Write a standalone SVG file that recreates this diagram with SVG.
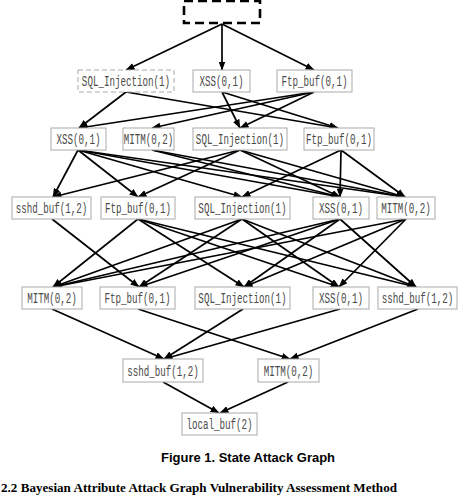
<svg xmlns="http://www.w3.org/2000/svg" width="474" height="498" viewBox="0 0 474 498">
<defs>
<marker id="ah" markerUnits="userSpaceOnUse" markerWidth="9" markerHeight="7" refX="8.5" refY="3.5" orient="auto">
<path d="M0,0 L9,3.5 L0,7 z" fill="#000"/>
</marker>
<style>
.n rect{fill:#fff;stroke:#aaa;stroke-width:1}
.n text{font-family:"Liberation Mono",monospace;font-size:9.2px;fill:#4a4a4a;text-anchor:middle}
.dash rect{stroke-dasharray:5,3}
#edges line{stroke:#000;stroke-width:1.7;marker-end:url(#ah)}
.cap{font-family:"Liberation Sans",Arial,sans-serif;font-weight:bold;font-size:12.5px;fill:#000}
.sec{font-family:"Liberation Serif","Times New Roman",serif;font-weight:bold;font-size:13.5px;fill:#000}
</style>
</defs>
<rect width="474" height="498" fill="#fff"/>

<g id="edges">
<!-- start -> row1 -->
<line x1="222" y1="24" x2="126" y2="70"/>
<line x1="222" y1="24" x2="222" y2="70"/>
<line x1="222" y1="24" x2="314" y2="70"/>
<!-- row1 -> row2 -->
<line x1="126" y1="92" x2="79" y2="128"/>
<line x1="126" y1="92" x2="338" y2="128"/>
<line x1="222" y1="92" x2="240" y2="128"/>
<line x1="222" y1="92" x2="338" y2="128"/>
<line x1="314" y1="92" x2="79" y2="128"/>
<line x1="314" y1="92" x2="152" y2="128"/>
<line x1="314" y1="92" x2="240" y2="128"/>
<!-- row2 -> row3 -->
<line x1="78" y1="150" x2="53" y2="197"/>
<line x1="78" y1="150" x2="138" y2="197"/>
<line x1="78" y1="150" x2="242" y2="197"/>
<line x1="78" y1="150" x2="340" y2="197"/>
<line x1="78" y1="150" x2="405" y2="197"/>
<line x1="152" y1="150" x2="340" y2="197"/>
<line x1="152" y1="150" x2="405" y2="197"/>
<line x1="240" y1="150" x2="53" y2="197"/>
<line x1="240" y1="150" x2="138" y2="197"/>
<line x1="240" y1="150" x2="340" y2="197"/>
<line x1="240" y1="150" x2="405" y2="197"/>
<line x1="341" y1="150" x2="242" y2="197"/>
<line x1="341" y1="150" x2="340" y2="197"/>
<line x1="341" y1="150" x2="405" y2="197"/>
<!-- row3 -> row4 -->
<line x1="52" y1="219" x2="139" y2="287"/>
<line x1="138" y1="219" x2="53" y2="287"/>
<line x1="138" y1="219" x2="244" y2="287"/>
<line x1="138" y1="219" x2="339" y2="287"/>
<line x1="138" y1="219" x2="416" y2="287"/>
<line x1="242" y1="219" x2="53" y2="287"/>
<line x1="242" y1="219" x2="139" y2="287"/>
<line x1="242" y1="219" x2="339" y2="287"/>
<line x1="242" y1="219" x2="416" y2="287"/>
<line x1="340" y1="219" x2="53" y2="287"/>
<line x1="340" y1="219" x2="139" y2="287"/>
<line x1="340" y1="219" x2="244" y2="287"/>
<line x1="340" y1="219" x2="416" y2="287"/>
<line x1="406" y1="219" x2="53" y2="287"/>
<line x1="406" y1="219" x2="244" y2="287"/>
<line x1="406" y1="219" x2="339" y2="287"/>
<!-- row4 -> row5 -->
<line x1="52" y1="309" x2="164" y2="359"/>
<line x1="138" y1="309" x2="290" y2="359"/>
<line x1="243" y1="309" x2="164" y2="359"/>
<line x1="340" y1="309" x2="164" y2="359"/>
<line x1="418" y1="309" x2="290" y2="359"/>
<!-- row5 -> row6 -->
<line x1="163" y1="382" x2="219" y2="413"/>
<line x1="288" y1="382" x2="220" y2="413"/>
</g>

<g id="start"><rect x="184" y="1" width="76" height="22" fill="none" stroke="#000" stroke-width="2.6" stroke-dasharray="9,5"/></g>

<g id="r1_sql" class="n dash"><rect x="78" y="70" width="96" height="22"/><text transform="translate(126,86) scale(1,1.6)">SQL_Injection(1)</text></g>
<g id="r1_xss" class="n"><rect x="193" y="70" width="57" height="22"/><text transform="translate(221.5,86) scale(1,1.6)">XSS(0,1)</text></g>
<g id="r1_ftp" class="n"><rect x="277" y="70" width="75" height="22"/><text transform="translate(314.5,86) scale(1,1.6)">Ftp_buf(0,1)</text></g>

<g id="r2_xss" class="n"><rect x="51" y="128" width="55" height="22"/><text transform="translate(78.5,144) scale(1,1.6)">XSS(0,1)</text></g>
<g id="r2_mitm" class="n"><rect x="123" y="128" width="51" height="22"/><text transform="translate(148.5,144) scale(1,1.6)">MITM(0,2)</text></g>
<g id="r2_sql" class="n"><rect x="193" y="128" width="94" height="22"/><text transform="translate(240,144) scale(1,1.6)">SQL_Injection(1)</text></g>
<g id="r2_ftp" class="n"><rect x="304" y="128" width="70" height="22"/><text transform="translate(339,144) scale(1,1.6)">Ftp_buf(0,1)</text></g>

<g id="r3_sshd" class="n"><rect x="12" y="197" width="79" height="22"/><text transform="translate(51.5,213) scale(1,1.6)">sshd_buf(1,2)</text></g>
<g id="r3_ftp" class="n"><rect x="101" y="197" width="74" height="22"/><text transform="translate(138,213) scale(1,1.6)">Ftp_buf(0,1)</text></g>
<g id="r3_sql" class="n"><rect x="195" y="197" width="95" height="22"/><text transform="translate(242.5,213) scale(1,1.6)">SQL_Injection(1)</text></g>
<g id="r3_xss" class="n"><rect x="313" y="197" width="56" height="22"/><text transform="translate(341,213) scale(1,1.6)">XSS(0,1)</text></g>
<g id="r3_mitm" class="n"><rect x="377" y="197" width="58" height="22"/><text transform="translate(406,213) scale(1,1.6)">MITM(0,2)</text></g>

<g id="r4_mitm" class="n"><rect x="22" y="287" width="60" height="22"/><text transform="translate(52,303) scale(1,1.6)">MITM(0,2)</text></g>
<g id="r4_ftp" class="n"><rect x="100" y="287" width="75" height="22"/><text transform="translate(137.5,303) scale(1,1.6)">Ftp_buf(0,1)</text></g>
<g id="r4_sql" class="n"><rect x="195" y="287" width="95" height="22"/><text transform="translate(242.5,303) scale(1,1.6)">SQL_Injection(1)</text></g>
<g id="r4_xss" class="n"><rect x="313" y="287" width="56" height="22"/><text transform="translate(341,303) scale(1,1.6)">XSS(0,1)</text></g>
<g id="r4_sshd" class="n"><rect x="378" y="287" width="79" height="22"/><text transform="translate(417.5,303) scale(1,1.6)">sshd_buf(1,2)</text></g>

<g id="r5_sshd" class="n"><rect x="123" y="359" width="80" height="23"/><text transform="translate(163,375.5) scale(1,1.6)">sshd_buf(1,2)</text></g>
<g id="r5_mitm" class="n"><rect x="258" y="359" width="61" height="23"/><text transform="translate(288.5,375.5) scale(1,1.6)">MITM(0,2)</text></g>

<g id="r6_local" class="n"><rect x="182" y="413" width="75" height="22"/><text transform="translate(219.5,429) scale(1,1.6)">local_buf(2)</text></g>

<text class="cap" x="161" y="462" textLength="174" lengthAdjust="spacingAndGlyphs">Figure 1. State Attack Graph</text>
<text class="sec" x="1" y="492" textLength="396" lengthAdjust="spacingAndGlyphs">2.2 Bayesian Attribute Attack Graph Vulnerability Assessment Method</text>
</svg>
